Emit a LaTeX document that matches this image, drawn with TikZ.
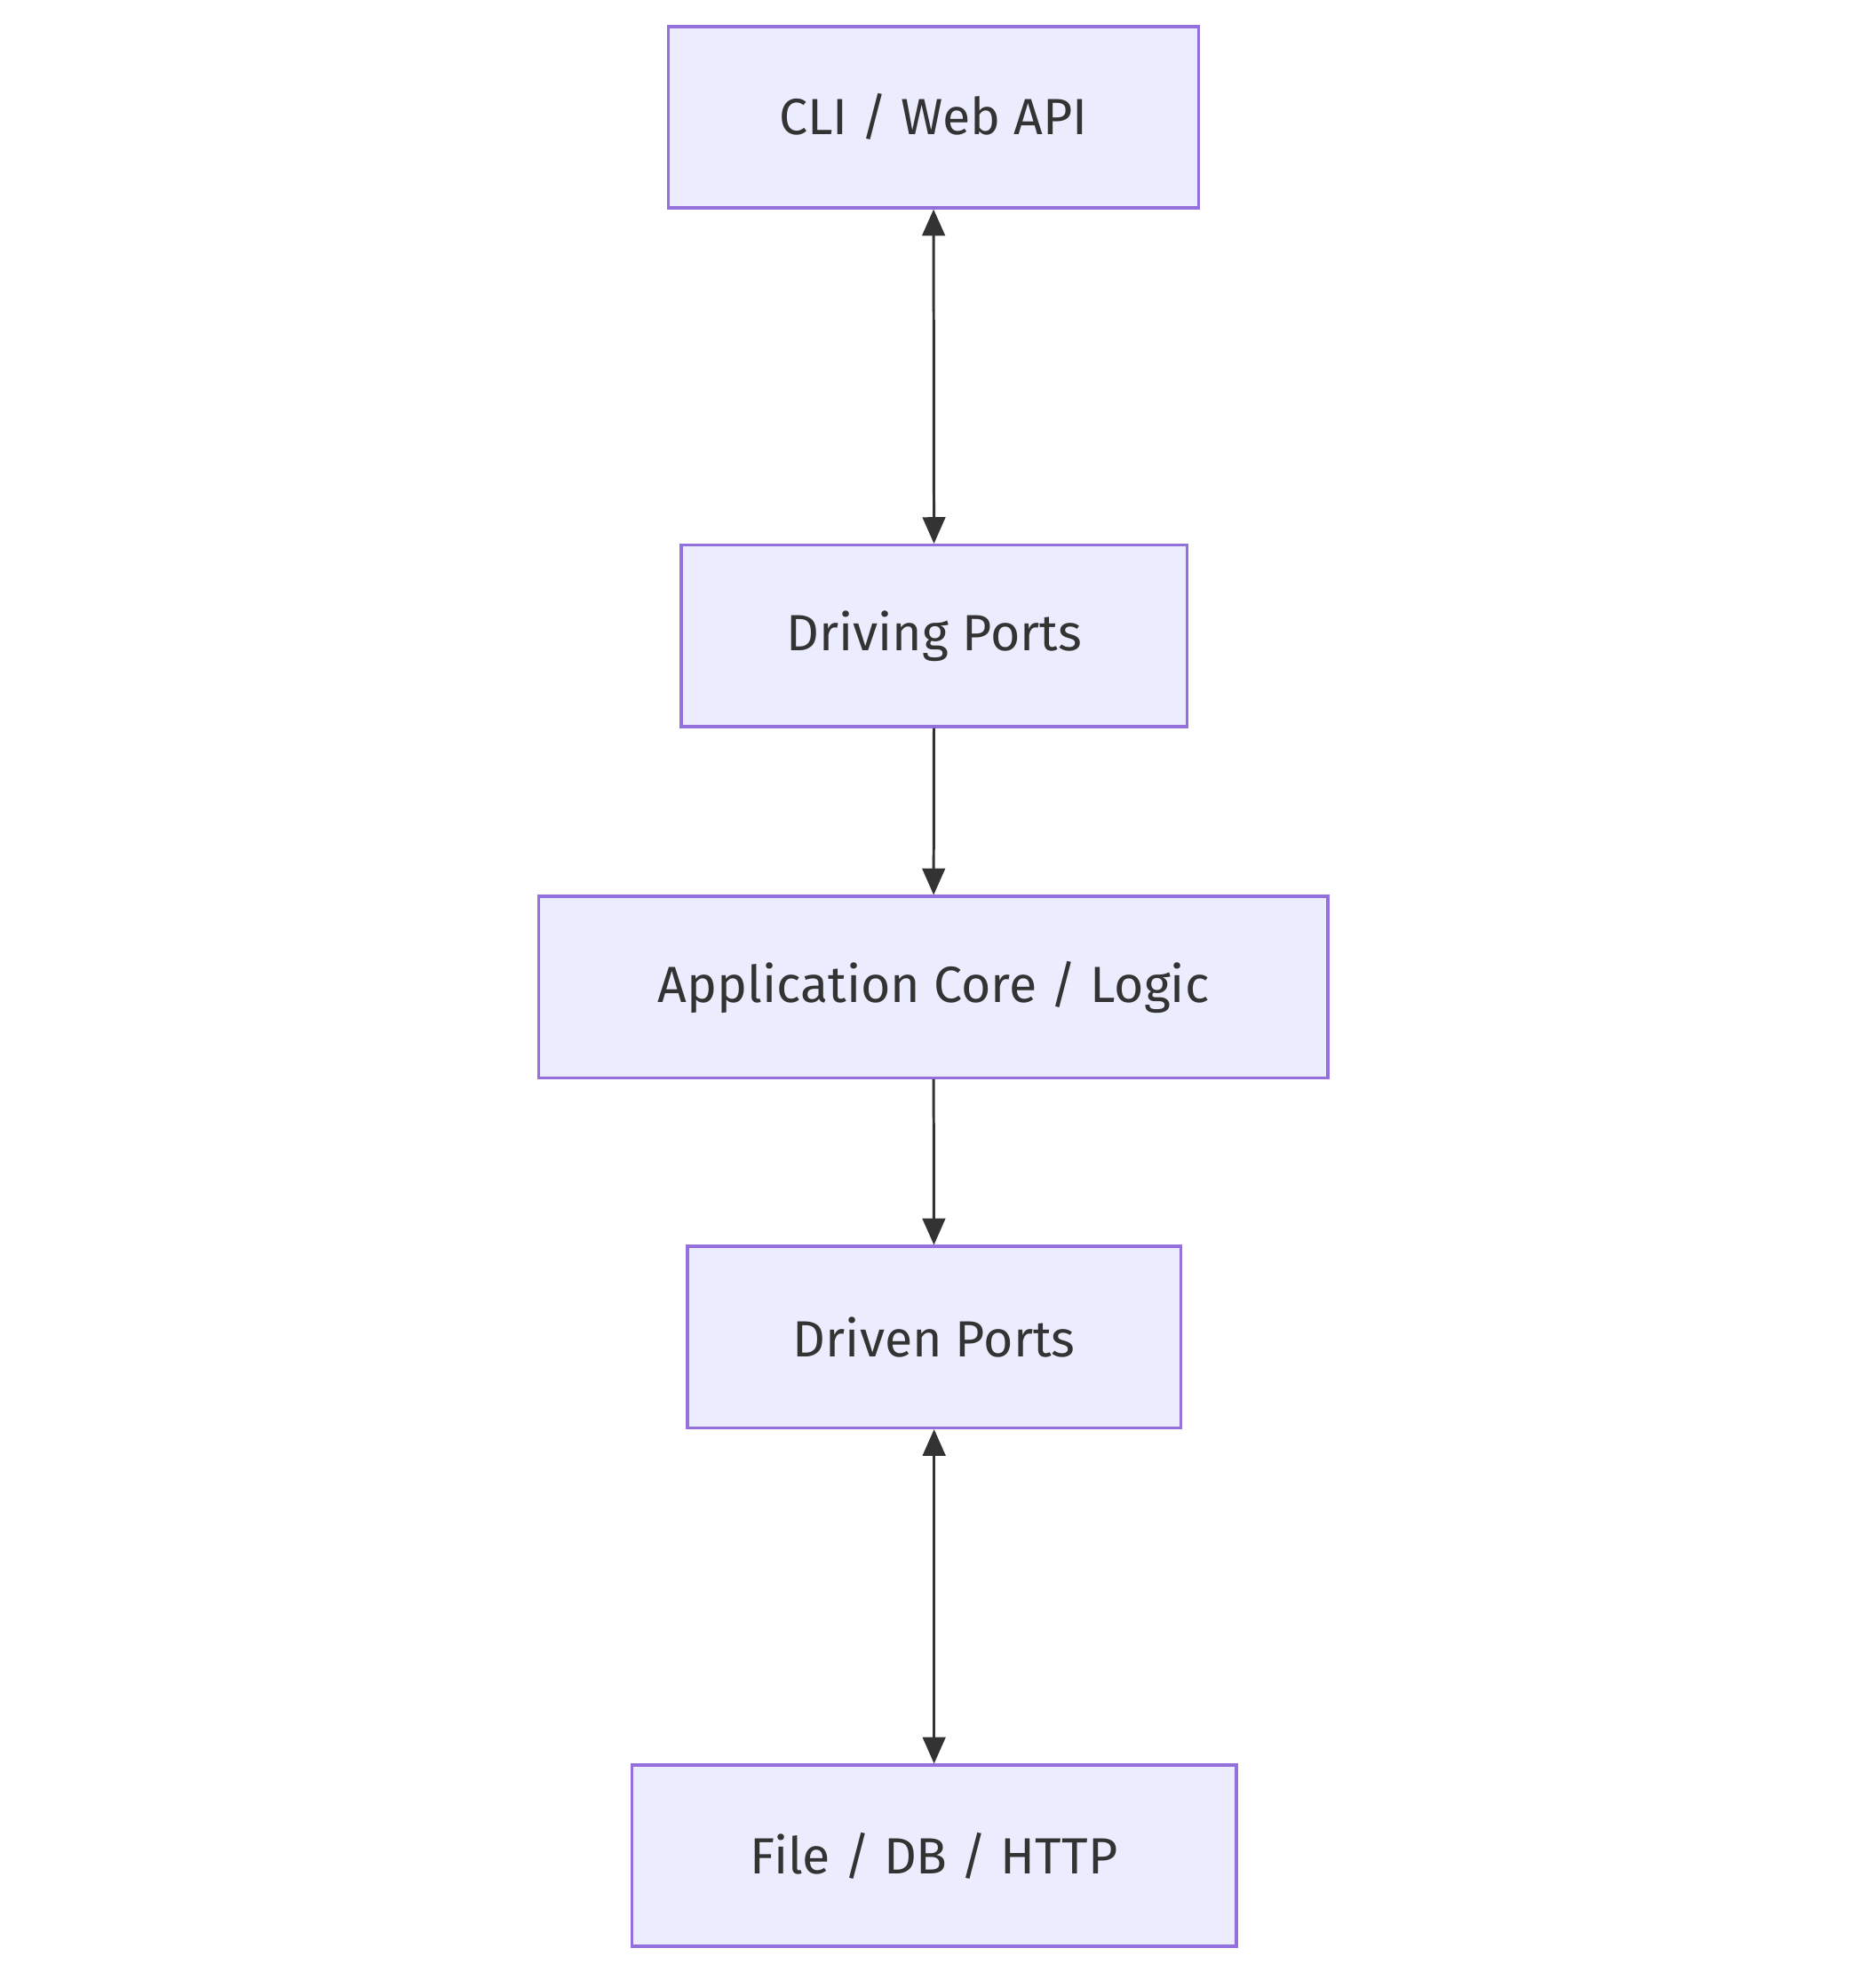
\documentclass[tikz,border=0pt]{standalone}
\usepackage{fontspec}
\setmainfont{Fira Sans}
\usetikzlibrary{arrows.meta}
\definecolor{boxfill}{HTML}{ECECFF}
\definecolor{boxline}{HTML}{9370DB}
\definecolor{linkcol}{HTML}{333333}

\begin{document}
\begin{tikzpicture}[x=0.02cm,y=-0.02cm,
  box/.style={draw=boxline,fill=boxfill,line width=1.4pt,minimum height=2.88cm,font=\fontsize{23}{28}\selectfont,text=linkcol},
  link/.style={draw=linkcol,line width=1.2pt,-{Triangle[length=0.42cm,width=0.36cm]}},
  both/.style={link,{Triangle[length=0.42cm,width=0.36cm]}-{Triangle[length=0.42cm,width=0.36cm]}}]
  \useasboundingbox (0,0) rectangle (1470,1579);
  \node[box,minimum width=8.42cm] (cli) at (741.5,93) {CLI / Web API};
  \node[box,minimum width=8.04cm] (driving) at (742,505) {Driving Ports};
  \node[box,minimum width=12.54cm] (core) at (741.5,784) {Application Core / Logic};
  \node[box,minimum width=7.84cm] (driven) at (742,1062) {Driven Ports};
  \node[box,minimum width=9.6cm] (ext) at (742,1474) {File / DB / HTTP};

  \draw[both] (cli) -- (driving);
  \draw[link] (driving) -- (core);
  \draw[link] (core) -- (driven);
  \draw[both] (driven) -- (ext);

\end{tikzpicture}
\end{document}
